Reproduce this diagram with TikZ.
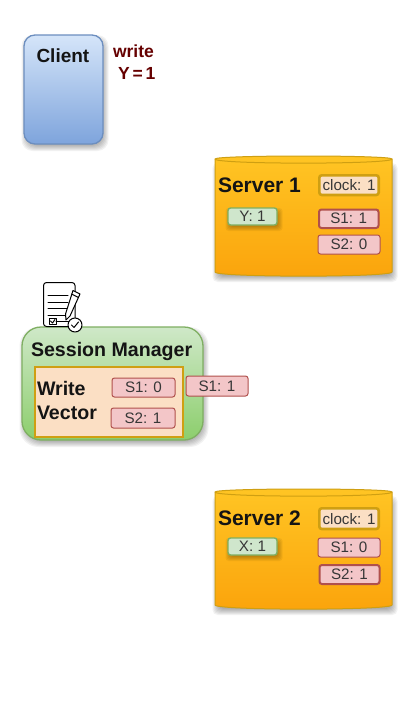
\documentclass[tikz,border=0pt]{standalone}
\usepackage{fontspec}
\setmainfont{Liberation Sans}
\definecolor{ink}{HTML}{141414}
\definecolor{wine}{HTML}{660000}
\definecolor{redfill}{HTML}{F3C6C8}
\definecolor{redline}{HTML}{B0504C}
\definecolor{peach}{HTML}{FBDFC4}
\definecolor{goldline}{HTML}{CF9F12}
\definecolor{greenfill}{HTML}{CFE6CC}
\definecolor{greenline}{HTML}{7FAF62}
\definecolor{orangetop}{HTML}{FFC524}
\definecolor{orangebot}{HTML}{FBA40C}
\definecolor{clienttop}{HTML}{D5E5F9}
\definecolor{clientbot}{HTML}{7EA4DC}
\definecolor{clientline}{HTML}{6C8EBF}
\definecolor{smtop}{HTML}{CFE8C8}
\definecolor{smbot}{HTML}{8CCE6C}
\tikzset{
  shadowlayer/.style={fill=black,fill opacity=0.05,draw=none},
  pxbox/.style={inner sep=0pt,outer sep=0pt,font=\fontsize{15.2}{15.2}\selectfont,text=ink!85,rounded corners=2.5pt,align=center},
  redpill/.style={pxbox,draw=redline,fill=redfill,line width=1pt},
  redbold/.style={redpill,line width=2pt},
  clockbox/.style={pxbox,draw=goldline,fill=peach,line width=2.6pt},
  valbox/.style={pxbox,draw=greenline,fill=greenfill,line width=1.4pt},
  title/.style={inner sep=0pt,outer sep=0pt,font=\bfseries\fontsize{21}{21}\selectfont,text=ink,anchor=base west},
  label/.style={inner sep=0pt,outer sep=0pt,font=\bfseries\fontsize{19.6}{19.6}\selectfont,text=ink,anchor=base west},
  brown/.style={inner sep=0pt,outer sep=0pt,font=\bfseries\fontsize{17.5}{17.5}\selectfont,text=wine,anchor=base west},
  orangecyl/.style={draw=goldline,line width=1pt,top color=orangetop,bottom color=orangebot},
  icon/.style={draw=black,line width=1pt,line cap=round,line join=round},
}
\newcommand{\wh}[6]{\node[#1,minimum width=#4pt-#2pt,minimum height=#5pt-#3pt] (#6) at ({(#2+#4)/2},{(#3+#5)/2})}
% soft shadow: x1 y1 x2 y2 radius
\newcommand{\softrect}[5]{%
  \foreach \gr in {-2,-1,0,1,2,3,4}{
    \fill[shadowlayer,rounded corners={#5 pt}] ({#1+1.5-\gr},{#2+4-\gr}) rectangle ({#3+1.5+\gr},{#4+3+\gr});
  }}
\newcommand{\cyl}[2]{%
  \softrect{215}{#1+8}{392}{#1+120}{5}
  \draw[orangecyl] (215,#1+4) .. controls (215,#1) and (392,#1) .. (392,#1+4)
     -- (392,#1+117) .. controls (392,#1+122.5) and (215,#1+122.5) .. (215,#1+117) -- cycle;
  \draw[goldline,line width=1pt] (215,#1+4) .. controls (215,#1+9.5) and (392,#1+9.5) .. (392,#1+4);
  \node[title] (#2) at (218,#1+37) {Server #2};
}
\begin{document}
\begin{tikzpicture}[x=1pt,y=-1pt]
\useasboundingbox (0,0) rectangle (405,720);
\fill[white] (0,0) rectangle (405,720);
% Client
\softrect{24}{35}{103}{144}{11}
\node[draw=clientline,line width=1.3pt,rounded corners=11pt,top color=clienttop,bottom color=clientbot,minimum width=79pt,minimum height=109pt,inner sep=0pt] (client) at (63.5,89.5) {};
\node[label,font=\bfseries\fontsize{19}{19}\selectfont] (clientT) at (36.5,62) {Client};
\node[brown] (wr) at (113,57) {write};
\node[brown] (yy) at (118,79) {Y\,=\,1};
% Server 1
\cyl{155}{1}
\wh{clockbox}{319.3}{175.3}{378.7}{195}{clockA} {clock: 1};
\softrect{228}{208}{277}{224}{3}
\wh{valbox}{228}{208}{277}{225}{valA} {Y: 1};
\wh{redbold}{319}{209.5}{378.5}{228}{s1a} {S1: 1};
\wh{redpill}{318}{235}{380}{254}{s2a} {S2: 0};
% Server 2
\cyl{488}{2}
\wh{clockbox}{319.3}{508.3}{378.7}{529}{clockB} {clock: 1};
\softrect{228}{538}{277}{554}{3}
\wh{valbox}{228}{538}{277}{555}{valB} {X: 1};
\wh{redpill}{318}{538}{380}{557}{s1b} {S1: 0};
\wh{redbold}{319.5}{565}{379.5}{584}{s2b} {S2: 1};
% Session manager
\softrect{22}{327}{203}{440}{19}
\node[draw=greenline,line width=1.3pt,rounded corners=19pt,top color=smtop,bottom color=smbot,minimum width=181pt,minimum height=113pt,inner sep=0pt] (sm) at (112.5,383.5) {};
\node[label] (smT) at (31,356) {Session Manager};
\node[draw=goldline,line width=1.2pt,fill=peach,minimum width=148pt,minimum height=70pt,inner sep=0pt] (wv) at (109,402) {};
\node[label] (w1) at (37,395) {Write};
\node[label] (w2) at (37,419) {Vector};
\wh{redpill}{112}{378}{175}{397}{s1c} {S1: 0};
\wh{redpill}{111}{408}{175}{428}{s2c} {S2: 1};
\wh{redpill}{186}{376}{248}{396}{s1d} {S1: 1};
% Icon
\draw[icon,fill=white,rounded corners=3pt] (43.5,282.5) rectangle (75,326.5);
\foreach \yy in {295,302,308,315} \draw[icon] (48,\yy) -- (68,\yy);
\draw[icon] (49,318) rectangle (56,324.5);
\draw[icon] (50.5,321) -- (52.5,323) -- (55,319.5);
\draw[icon] (56,321) -- (69,321);
\draw[icon,fill=white] (73,290.5) -- (80,294) -- (70,316) -- (66,320) -- (65.5,314) -- cycle;
\draw[icon] (71.5,294) -- (78.5,297.5);
\draw[icon,fill=white] (75,325) circle (7pt);
\draw[icon] (71.5,325) -- (74,327.5) -- (78.5,322);
\end{tikzpicture}
\end{document}
